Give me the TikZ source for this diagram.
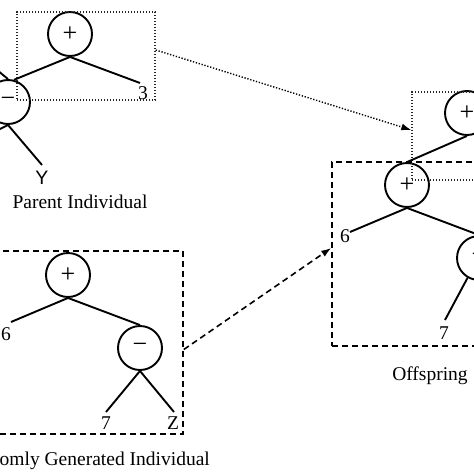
\documentclass[tikz,border=0pt]{standalone}
\usepackage{fontspec}
\setmainfont{Liberation Serif}
\newfontfamily\sansfont{Liberation Sans}
\usetikzlibrary{positioning, arrows.meta, fit, calc}
\tikzset{
    op/.style={circle, draw=black, line width=1.9pt, minimum size=44pt, inner sep=0pt, font=\fontsize{26}{26}\selectfont},
    leaf/.style={inner sep=0pt, font=\fontsize{19.5}{22}\selectfont},
    edge/.style={line width=1.9pt},
    dotbox/.style={rectangle, draw=black!85, line width=1.4pt, dash pattern=on 1.3pt off 1.7pt, inner sep=0pt},
    dashbox/.style={rectangle, draw=black, line width=1.6pt, dash pattern=on 6pt off 4pt, inner sep=0pt},
    caption/.style={font=\fontsize{19.5}{22}\selectfont, inner sep=0pt},
    dotarrow/.style={-{Latex[length=10pt, width=7pt]}, line width=1.4pt, dash pattern=on 1.3pt off 1.7pt},
    dasharrow/.style={-{Latex[length=10pt, width=7pt]}, line width=1.6pt, dash pattern=on 6pt off 4pt}
}

\begin{document}
\begin{tikzpicture}[x=1pt, y=-1pt]
        \useasboundingbox (0,0) rectangle (474,474);
        \clip (0,0) rectangle (474,474);

        % Parent individual
        \node[op] (P1) at (70,34) {+};
        \node[op] (P2) at (8,102) {−};
        \coordinate (P3e) at (140,83);
        \node[leaf] (P3) at (143,93) {3};
        \coordinate (PXe) at (-14,136);
        \coordinate (PYe) at (42,165);
        \node[leaf, font=\sansfont\fontsize{19.5}{22}\selectfont] (PY) at (42,178) {Y};
        \coordinate (PUp) at (-3,70);
        \coordinate (PBnw) at (17,12);
        \coordinate (PBse) at (155,100);
        \node[dotbox, fit=(PBnw)(PBse)] (PB) {};
        \node[caption, anchor=base] (PC) at (80,208) {Parent Individual};

        \draw[edge] (P1.south) -- (P2.75);
        \draw[edge] (P1.south) -- (P3e);
        \draw[edge] (P2.north) -- (PUp);
        \draw[edge] (P2.south) -- (PXe);
        \draw[edge] (P2.south) -- (PYe);

        % Randomly generated individual
        \node[op] (R1) at (68,275) {+};
        \node[op] (R2) at (140,348) {−};
        \coordinate (R6e) at (11,322);
        \node[leaf] (R6) at (6,334) {6};
        \coordinate (R7e) at (106,412);
        \node[leaf] (R7) at (106,423) {7};
        \coordinate (RZe) at (174,412);
        \node[leaf] (RZ) at (173,423) {Z};
        \coordinate (RBnw) at (-10,251);
        \coordinate (RBse) at (183,434);
        \node[dashbox, fit=(RBnw)(RBse)] (RB) {};
        \node[caption, anchor=base east] (RC) at (210,465) {Randomly Generated Individual};

        \draw[edge] (R1.south) -- (R6e);
        \draw[edge] (R1.south) -- (R2.north);
        \draw[edge] (R2.south) -- (R7e);
        \draw[edge] (R2.south) -- (RZe);

        % Offspring
        \node[op] (O1) at (467,113) {+};
        \node[op] (O2) at (407,185) {+};
        \node[op] (O3) at (479,258) {−};
        \coordinate (O6e) at (350,232);
        \node[leaf] (O6) at (345,236) {6};
        \coordinate (O7e) at (445,320);
        \node[leaf] (O7) at (444,333) {7};
        \coordinate (OBnw) at (412,92);
        \coordinate (OBse) at (490,180);
        \node[dotbox, fit=(OBnw)(OBse)] (OB) {};
        \coordinate (ODnw) at (332,162);
        \coordinate (ODse) at (500,346);
        \node[dashbox, fit=(ODnw)(ODse)] (OD) {};
        \node[caption, anchor=base] (OC) at (430,380) {Offspring};

        \draw[edge] (O1.south) -- (O2.north);
        \draw[edge] (O2.south) -- (O6e);
        \draw[edge] (O2.south) -- (O3.north);
        \draw[edge] (O3.240) -- (O7e);

        % Crossover
        \draw[dotarrow] ([yshift=6pt]PB.east) -- ([yshift=6pt]OB.west);
        \draw[dasharrow] ([yshift=-7pt]RB.east) -- ([yshift=6pt]OD.west);

    \end{tikzpicture}
\end{document}
